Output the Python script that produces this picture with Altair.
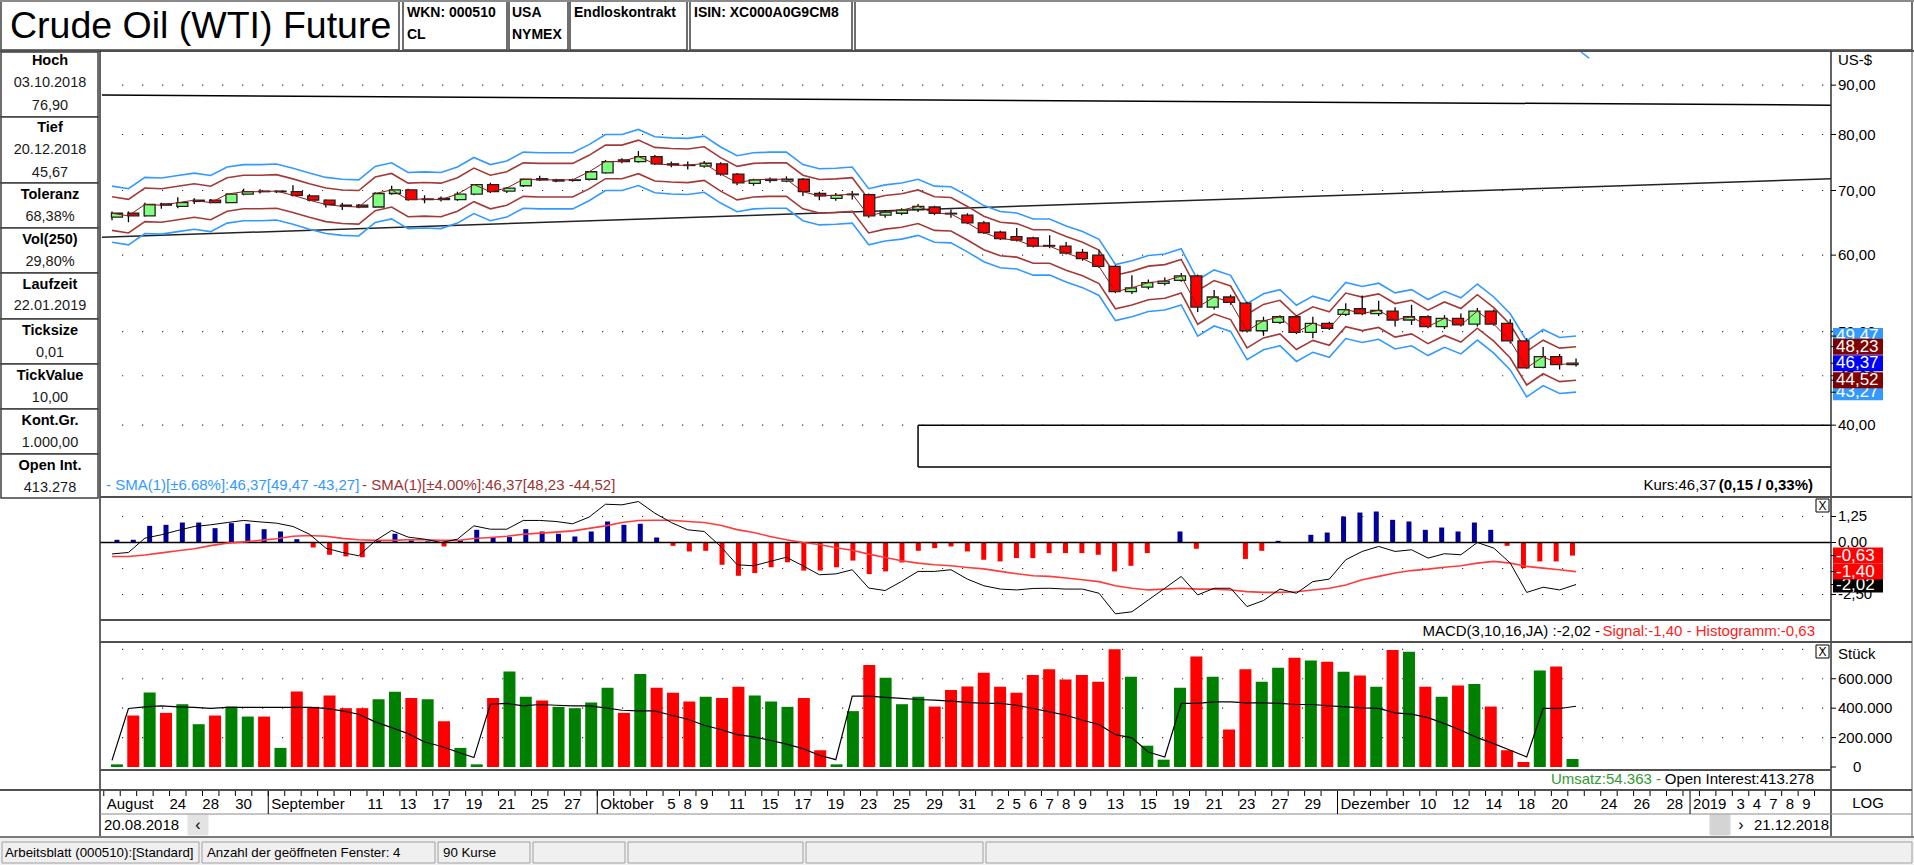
import altair as alt
import pandas as pd

# ============================================================ chart values
# one entry per trading day, 20.08.2018 ... 21.12.2018  ("90 Kurse")
OPEN = [65.7, 66.3, 65.9, 67.8, 67.4, 68.2, 68.4, 68.0, 69.4, 69.9,
        69.8, 69.8, 69.1, 68.4, 67.6, 67.6, 67.3, 69.5, 70.1, 68.5,
        68.7, 68.5, 69.4, 71.0, 69.9, 70.8, 72.0, 71.6, 71.7, 71.9,
        73.0, 75.3, 75.0, 75.9, 74.6, 74.4, 74.2, 74.6, 72.8, 71.2,
        71.7, 71.6, 71.9, 69.5, 68.7, 69.3, 69.3, 66.0, 66.3, 66.9,
        67.3, 66.3, 66.0, 64.8, 63.4, 62.7, 62.5, 61.4, 61.3, 60.4,
        60.0, 58.4, 55.0, 55.6, 56.1, 56.5, 57.1, 53.0, 54.3, 53.5,
        50.1, 51.1, 51.8, 49.9, 51.0, 52.1, 52.8, 52.2, 52.5, 51.4,
        51.8, 50.6, 51.6, 50.9, 52.5, 51.0, 48.9, 45.9, 47.1, 46.22]
HIGH = [66.6, 66.6, 68.0, 68.0, 68.9, 68.7, 68.6, 69.5, 70.3, 70.2,
        70.0, 70.9, 69.4, 68.5, 68.0, 67.8, 69.7, 70.8, 70.3, 69.2,
        69.0, 69.8, 71.1, 71.3, 70.6, 72.0, 72.5, 72.0, 72.0, 73.3,
        75.3, 75.6, 76.9, 76.2, 75.0, 75.0, 75.1, 74.9, 73.0, 72.0,
        72.2, 72.4, 72.1, 69.8, 69.6, 69.9, 69.5, 66.8, 67.1, 67.8,
        67.5, 66.9, 66.3, 65.1, 63.6, 64.0, 62.7, 62.9, 61.9, 60.9,
        60.7, 58.6, 57.2, 56.6, 56.9, 57.5, 57.3, 55.2, 54.6, 53.7,
        51.8, 52.0, 52.0, 51.8, 51.2, 53.5, 54.5, 53.8, 53.0, 53.3,
        52.0, 52.0, 52.2, 52.9, 52.7, 51.5, 49.2, 48.2, 47.4, 46.9]
LOW = [65.2, 64.9, 65.8, 67.0, 67.1, 67.8, 67.9, 67.9, 69.2, 69.5,
       69.6, 69.0, 68.2, 67.2, 66.8, 67.1, 67.2, 69.3, 68.3, 67.9,
       68.2, 68.3, 69.2, 69.6, 69.6, 70.6, 71.6, 71.4, 71.5, 71.7,
       72.9, 74.7, 74.8, 74.4, 74.0, 73.6, 73.9, 72.5, 70.9, 70.8,
       71.3, 71.4, 69.1, 68.4, 68.3, 68.5, 65.6, 65.6, 66.0, 66.5,
       66.0, 65.6, 64.6, 63.1, 62.2, 62.0, 61.1, 61.0, 60.1, 59.2,
       58.2, 54.8, 54.7, 55.3, 55.8, 56.3, 52.4, 52.7, 53.3, 49.9,
       49.5, 50.9, 49.7, 49.2, 50.2, 51.9, 52.0, 51.9, 50.6, 50.8,
       50.4, 50.3, 50.6, 50.6, 50.7, 48.6, 45.75, 45.8, 45.67, 46.0]
CLOSE = [66.3, 65.9, 67.7, 67.6, 68.0, 68.4, 68.0, 69.4, 69.8, 69.8,
         69.9, 69.2, 68.4, 67.7, 67.4, 67.3, 69.5, 70.1, 68.5, 68.6,
         68.5, 69.4, 71.0, 69.8, 70.4, 71.9, 71.8, 71.8, 71.8, 73.2,
         75.0, 75.0, 75.9, 74.6, 74.4, 74.3, 74.7, 72.8, 71.3, 71.8,
         71.9, 71.9, 69.8, 69.1, 69.2, 69.4, 65.9, 66.5, 66.8, 67.4,
         66.3, 66.2, 64.8, 63.3, 62.4, 62.2, 61.3, 61.3, 60.3, 59.5,
         58.4, 55.0, 55.5, 56.2, 56.4, 57.1, 53.0, 54.3, 53.6, 50.1,
         51.3, 51.8, 49.9, 51.0, 50.4, 52.7, 52.2, 52.6, 51.4, 51.8,
         50.6, 51.6, 50.8, 52.5, 50.9, 48.9, 45.85, 47.1, 46.22, 46.37]
VOLUME = [18000, 350000, 507000, 368000, 427000, 291000, 350000, 411000, 343000, 343000,
          130000, 514000, 409000, 486000, 400000, 400000, 461000, 511000, 470000, 461000,
          311000, 130000, 18000, 470000, 650000, 477000, 452000, 409000, 400000, 439000,
          539000, 368000, 632000, 539000, 505000, 445000, 477000, 470000, 545000, 486000,
          445000, 409000, 470000, 114000, 18000, 380000, 693000, 607000, 427000, 477000,
          411000, 523000, 548000, 641000, 545000, 505000, 625000, 664000, 595000, 625000,
          580000, 800000, 614000, 145000, 50000, 539000, 752000, 614000, 255000, 664000,
          580000, 675000, 743000, 725000, 716000, 648000, 623000, 545000, 795000, 784000,
          545000, 477000, 555000, 564000, 411000, 114000, 34000, 657000, 684000, 54363]
OPEN_INTEREST = [45000, 398000, 409000, 416000, 409000, 405000, 398000, 405000, 405000, 405000,
                 405000, 405000, 405000, 398000, 382000, 359000, 307000, 268000, 227000, 170000,
                 141000, 102000, 64000, 427000, 432000, 416000, 425000, 420000, 416000, 416000,
                 402000, 386000, 382000, 382000, 352000, 325000, 284000, 255000, 220000, 205000,
                 182000, 155000, 125000, 80000, 50000, 482000, 482000, 473000, 466000, 459000,
                 455000, 448000, 439000, 432000, 432000, 420000, 398000, 375000, 352000, 318000,
                 289000, 220000, 198000, 102000, 68000, 432000, 432000, 443000, 443000, 436000,
                 436000, 432000, 425000, 425000, 416000, 409000, 402000, 398000, 368000, 359000,
                 336000, 295000, 250000, 200000, 159000, 114000, 68000, 398000, 398000, 413278]
MACD_LINE = [-0.55, -0.48, 0.21, 0.37, 0.58, 0.77, 0.85, 0.96, 1.06, 0.99,
             0.93, 0.77, 0.40, -0.27, -0.48, -0.64, 0.08, 0.58, 0.26, 0.16,
             0.0, 0.16, 0.80, 0.64, 0.64, 1.06, 1.06, 1.01, 0.90, 1.22,
             1.84, 1.81, 1.97, 1.41, 0.96, 0.61, 0.53, -0.19, -1.07, -1.12,
             -0.91, -0.71, -1.12, -1.55, -1.51, -1.31, -2.19, -2.31, -1.87, -1.39,
             -1.39, -1.31, -1.76, -2.08, -2.24, -2.28, -2.21, -2.20, -2.24, -2.24,
             -2.44, -3.43, -3.33, -2.76, -2.20, -1.63, -2.52, -2.20, -2.20, -3.08,
             -2.79, -2.24, -2.44, -1.88, -1.76, -0.83, -0.43, -0.19, -0.43, -0.35,
             -0.75, -0.54, -0.59, 0.0, -0.27, -0.99, -2.40, -2.15, -2.28, -2.02]
MACD_SIGNAL = [-0.67, -0.67, -0.6, -0.5, -0.4, -0.3, -0.15, -0.03, 0.03, 0.1,
               0.18, 0.3, 0.34, 0.3, 0.2, 0.13, 0.1, 0.1, 0.13, 0.13,
               0.1, 0.1, 0.19, 0.24, 0.3, 0.4, 0.45, 0.5, 0.56, 0.68,
               0.8, 0.96, 1.06, 1.07, 1.07, 1.01, 0.96, 0.83, 0.62, 0.48,
               0.29, 0.13, 0.0, -0.1, -0.25, -0.37, -0.56, -0.72, -0.88, -0.99,
               -1.07, -1.12, -1.2, -1.27, -1.39, -1.5, -1.6, -1.63, -1.71, -1.79,
               -1.88, -2.08, -2.2, -2.28, -2.24, -2.2, -2.24, -2.24, -2.28, -2.36,
               -2.40, -2.40, -2.37, -2.28, -2.2, -2.04, -1.79, -1.63, -1.47, -1.35,
               -1.28, -1.19, -1.12, -0.99, -0.91, -0.99, -1.15, -1.23, -1.31, -1.40]
MACD_HIST = [0.13, 0.13, 0.80, 0.85, 0.96, 0.96, 0.69, 0.93, 0.90, 0.64,
             0.53, 0.16, -0.24, -0.59, -0.67, -0.71, 0.10, 0.42, 0.10, 0.05,
             -0.19, 0.10, 0.61, 0.26, 0.26, 0.64, 0.53, 0.42, 0.29, 0.53,
             1.01, 0.85, 0.90, 0.24, -0.16, -0.43, -0.40, -1.07, -1.60, -1.47,
             -1.19, -0.95, -1.35, -1.35, -1.19, -0.87, -1.52, -1.39, -0.96, -0.40,
             -0.27, -0.19, -0.43, -0.83, -0.91, -0.75, -0.75, -0.51, -0.51, -0.51,
             -0.59, -1.39, -1.12, -0.51, 0.0, 0.53, -0.30, 0.0, 0.0, -0.79,
             -0.40, 0.08, 0.0, 0.37, 0.48, 1.25, 1.44, 1.49, 1.09, 1.01,
             0.61, 0.72, 0.53, 0.96, 0.61, -0.16, -1.23, -0.91, -0.91, -0.63]

BAND_WIDE_PCT = 6.68
BAND_NARROW_PCT = 4.00

# right-axis tick values and labels
PRICE_TICKS = [90, 80, 70, 60, 50, 45, 40]
PRICE_TICK_TEXT = ["90,00", "80,00", "70,00", "60,00", "50,00", "45,00", "40,00"]
PRICE_LAST = [49.47, 43.27, 48.23, 44.52, 46.37]
PRICE_LAST_TEXT = ["49,47", "43,27", "48,23", "44,52", "46,37"]
PRICE_LAST_FILL = ["#3399FF", "#3399FF", "#800000", "#800000", "#0000FF"]
MACD_TICKS = [1.25, 0.0, -2.5]
MACD_TICK_TEXT = ["1,25", "0,00", "-2,50"]
MACD_GRID = [1.25, -1.25, -2.5]
MACD_LAST = [-2.02, -0.63, -1.40]
MACD_LAST_TEXT = ["-2,02", "-0,63", "-1,40"]
MACD_LAST_FILL = ["#000000", "#FF0000", "#FF0000"]
VOL_TICKS = [600000, 400000, 200000, 0]
VOL_TICK_TEXT = ["600.000", "400.000", "200.000", "0"]
VOL_GRID = [200000, 400000, 600000, 800000]

# time axis (trading-day slots, 0 = 20.08.2018)
DAY_TEXT = ["24", "28", "30", "11", "13", "17", "19", "21", "25", "27",
            "5", "8", "9", "11", "15", "17", "19", "23", "25", "29", "31",
            "2", "5", "6", "7", "8", "9", "13", "15", "19", "21", "23", "27", "29",
            "10", "12", "14", "18", "20", "24", "26", "28", "3", "4", "7", "8", "9"]
DAY_SLOT = [4, 6, 8, 16, 18, 20, 22, 24, 26, 28,
            34, 35, 36, 38, 40, 42, 44, 46, 48, 50, 52,
            54, 55, 56, 57, 58, 59, 61, 63, 65, 67, 69, 71, 73,
            80, 82, 84, 86, 88, 91, 93, 95, 99, 100, 101, 102, 103]
MONTH_TEXT = ["August", "September", "Oktober", "Dezember", "2019"]
MONTH_SLOT = [-0.5, 9.5, 29.5, 74.5, 95.93]
N_SLOTS = 105

# drawn objects in the price window: (slot1, price1, slot2, price2)
DRAWN_LINES = [(-0.61, 87.9, 104.5, 85.8),
               (-0.61, 62.6, 104.5, 72.0),
               (49.0, 40.0, 104.5, 40.0),
               (49.0, 40.0, 49.0, 36.2),
               (49.0, 36.2, 104.5, 36.2)]
DRAWN_COLOR = ["#000000", "#222222", "#000000", "#000000", "#000000"]
DRAWN_BLUE = [(89.3, 97.4, 89.8, 96.0)]

# ============================================================ layout
W, H = 1914, 865
SANS = "Liberation Sans, Arial, Helvetica, sans-serif"
X_LEFT, X_RIGHT = 100, 1831
FIRST_PX, SLOT_PX = 112, 16.45
XS = alt.Scale(domain=[(X_LEFT - FIRST_PX) / SLOT_PX, (X_RIGHT - FIRST_PX) / SLOT_PX],
               range=[X_LEFT, X_RIGHT], zero=False, nice=False)
PS = alt.Scale(type="log", domain=[33.7, 97.4], range=[497, 52], nice=False)
MS = alt.Scale(domain=[-3.726, 2.1875], range=[620, 497], zero=False, nice=False)
VS = alt.Scale(domain=[0, 850000], range=[767, 642], zero=False, nice=False)

AXL = 1838  # left edge of right-axis labels

# ============================================================ helpers
def xq(field="slot"):
    return alt.X(f"{field}:Q", scale=XS, axis=None)


def pix_rules(rows):
    df = pd.DataFrame(rows, columns=["x", "y", "x2", "y2", "c", "w"])
    return alt.Chart(df).mark_rule().encode(
        x=alt.X("x:Q", scale=None, axis=None), y=alt.Y("y:Q", scale=None, axis=None),
        x2="x2:Q", y2="y2:Q",
        color=alt.Color("c:N", scale=None, legend=None),
        strokeWidth=alt.StrokeWidth("w:Q", scale=None, legend=None))


def pix_rects(rows, sw=1):
    df = pd.DataFrame(rows, columns=["x", "y", "x2", "y2", "f", "s"])
    return alt.Chart(df).mark_rect(strokeWidth=sw).encode(
        x=alt.X("x:Q", scale=None, axis=None), y=alt.Y("y:Q", scale=None, axis=None),
        x2="x2:Q", y2="y2:Q",
        fill=alt.Fill("f:N", scale=None, legend=None),
        stroke=alt.Stroke("s:N", scale=None, legend=None))


def pix_text(rows, align="left", weight="normal", font=SANS):
    df = pd.DataFrame(rows, columns=["t", "x", "y", "s", "c"])
    return alt.Chart(df).mark_text(align=align, baseline="middle", font=font, fontWeight=weight).encode(
        x=alt.X("x:Q", scale=None, axis=None), y=alt.Y("y:Q", scale=None, axis=None),
        text="t:N",
        size=alt.Size("s:Q", scale=None, legend=None),
        color=alt.Color("c:N", scale=None, legend=None))


# ============================================================ data frames
n = len(CLOSE)
df = pd.DataFrame({
    "slot": list(range(n)), "o": OPEN, "h": HIGH, "l": LOW, "c": CLOSE,
    "v": VOLUME, "oi": OPEN_INTEREST,
    "macd": MACD_LINE, "sig": MACD_SIGNAL, "hist": MACD_HIST,
})
df["zero"] = 0.0
df["up"] = df["c"] >= df["o"]
df["body"] = df["up"].map({True: "#80FF80", False: "#FF0000"})
df["vcol"] = df["up"].map({True: "#008000", False: "#FF0000"})
df["hcol"] = (df["hist"] >= 0).map({True: "#000099", False: "#FF0000"})
df["bw_hi"] = df["c"] * (1 + BAND_WIDE_PCT / 100)
df["bw_lo"] = df["c"] * (1 - BAND_WIDE_PCT / 100)
df["bn_hi"] = df["c"] * (1 + BAND_NARROW_PCT / 100)
df["bn_lo"] = df["c"] * (1 - BAND_NARROW_PCT / 100)

base = alt.Chart(df)
layers = []

# ---------------------------------------------------------------- backgrounds / boxes
layers.append(pix_rects([
    (0, 838, W, H, "#F0F0F0", "#F0F0F0"),
]))
layers.append(pix_rects([
    (1, 1, 399, 50, "#FFFFFF", "#404040"),
    (403, 1, 507, 50, "#FFFFFF", "#404040"),
    (509, 1, 568, 50, "#FFFFFF", "#404040"),
    (570, 1, 687, 50, "#FFFFFF", "#404040"),
    (690, 1, 852, 50, "#FFFFFF", "#404040"),
    (855, 1, 1912, 50, "#FFFFFF", "#404040"),
    (1, 52, 98, 117, "#FFFFFF", "#404040"),
    (1, 117, 98, 183, "#FFFFFF", "#404040"),
    (1, 183, 98, 228, "#FFFFFF", "#404040"),
    (1, 228, 98, 273, "#FFFFFF", "#404040"),
    (1, 273, 98, 319, "#FFFFFF", "#404040"),
    (1, 319, 98, 364, "#FFFFFF", "#404040"),
    (1, 364, 98, 409, "#FFFFFF", "#404040"),
    (1, 409, 98, 454, "#FFFFFF", "#404040"),
    (1, 454, 98, 498, "#FFFFFF", "#404040"),
], sw=1.5))
layers.append(pix_rects([
    (2, 842, 199, 863, "#F0F0F0", "#A0A0A0"),
    (202, 842, 435, 863, "#F0F0F0", "#A0A0A0"),
    (438, 842, 530, 863, "#F0F0F0", "#A0A0A0"),
    (533, 842, 625, 863, "#F0F0F0", "#A0A0A0"),
    (628, 842, 803, 863, "#F0F0F0", "#A0A0A0"),
    (806, 842, 983, 863, "#F0F0F0", "#A0A0A0"),
    (986, 842, 1912, 863, "#F0F0F0", "#A0A0A0"),
    (188, 815, 208, 835, "#E3E3E3", "#E3E3E3"),
    (1710, 815, 1730, 835, "#D4D4D4", "#D4D4D4"),
    (1816, 499, 1829, 512, "#FFFFFF", "#000000"),
    (1816, 645, 1829, 658, "#FFFFFF", "#000000"),
]))

# ---------------------------------------------------------------- grids (dotted)
pgrid = pd.DataFrame({"p": PRICE_TICKS})
layers.append(alt.Chart(pgrid).mark_rule(color="#333333", strokeWidth=1.2, strokeDash=[1.2, 18.8]).encode(
    x=alt.value(122), x2=alt.value(1826), y=alt.Y("p:Q", scale=PS, axis=None)))
mgrid = pd.DataFrame({"m": MACD_GRID})
layers.append(alt.Chart(mgrid).mark_rule(color="#333333", strokeWidth=1.2, strokeDash=[1.2, 18.8]).encode(
    x=alt.value(122), x2=alt.value(1826), y=alt.Y("m:Q", scale=MS, axis=None)))
vgrid = pd.DataFrame({"v": VOL_GRID})
layers.append(alt.Chart(vgrid).mark_rule(color="#333333", strokeWidth=1.2, strokeDash=[1.2, 18.8]).encode(
    x=alt.value(122), x2=alt.value(1826), y=alt.Y("v:Q", scale=VS, axis=None)))

# ---------------------------------------------------------------- drawn objects (price window)
dl = pd.DataFrame(DRAWN_LINES, columns=["s1", "p1", "s2", "p2"])
dl["c"] = DRAWN_COLOR
layers.append(alt.Chart(dl).mark_rule(strokeWidth=1.5).encode(
    x=xq("s1"), x2="s2:Q", y=alt.Y("p1:Q", scale=PS, axis=None), y2="p2:Q",
    color=alt.Color("c:N", scale=None, legend=None)))
db = pd.DataFrame(DRAWN_BLUE, columns=["s1", "p1", "s2", "p2"])
layers.append(alt.Chart(db).mark_rule(strokeWidth=1.5, color="#3399FF").encode(
    x=xq("s1"), x2="s2:Q", y=alt.Y("p1:Q", scale=PS, axis=None), y2="p2:Q"))

# ---------------------------------------------------------------- bands
for fld, col in [("bw_hi", "#3399FF"), ("bw_lo", "#3399FF"), ("bn_hi", "#A33A3A"), ("bn_lo", "#A33A3A")]:
    layers.append(base.mark_line(color=col, strokeWidth=1.6).encode(
        x=xq(), y=alt.Y(f"{fld}:Q", scale=PS, axis=None)))

# ---------------------------------------------------------------- candles
layers.append(base.mark_rule(color="#000000", strokeWidth=1.3).encode(
    x=xq(), y=alt.Y("l:Q", scale=PS, axis=None), y2="h:Q"))
layers.append(base.mark_bar(size=11, stroke="#202020", strokeWidth=1.3).encode(
    x=xq(), y=alt.Y("o:Q", scale=PS, axis=None), y2="c:Q",
    fill=alt.Fill("body:N", scale=None, legend=None)))
layers.append(base.mark_line(color="#8B1A1A", strokeWidth=1).encode(
    x=xq(), y=alt.Y("c:Q", scale=PS, axis=None)))

# ---------------------------------------------------------------- MACD
layers.append(base.mark_bar(size=5).encode(
    x=xq(), y=alt.Y("hist:Q", scale=MS, axis=None), y2="zero:Q",
    color=alt.Color("hcol:N", scale=None, legend=None)))
layers.append(alt.Chart(pd.DataFrame({"m": [0.0]})).mark_rule(color="#000000", strokeWidth=1.5).encode(
    x=alt.value(X_LEFT), x2=alt.value(X_RIGHT), y=alt.Y("m:Q", scale=MS, axis=None)))
layers.append(base.mark_line(color="#FF3B3B", strokeWidth=1.6).encode(
    x=xq(), y=alt.Y("sig:Q", scale=MS, axis=None)))
layers.append(base.mark_line(color="#000000", strokeWidth=1).encode(
    x=xq(), y=alt.Y("macd:Q", scale=MS, axis=None)))

# ---------------------------------------------------------------- volume + open interest
layers.append(base.mark_bar(size=12).encode(
    x=xq(), y=alt.Y("v:Q", scale=VS, axis=None), y2="zero:Q",
    color=alt.Color("vcol:N", scale=None, legend=None)))
layers.append(base.mark_line(color="#000000", strokeWidth=1.2).encode(
    x=xq(), y=alt.Y("oi:Q", scale=VS, axis=None)))

# ---------------------------------------------------------------- frame lines
layers.append(pix_rules([
    (0, 1, W, 1, "#8A8A8A", 2),
    (0, 51, W, 51, "#505050", 2),
    (X_LEFT, 51, X_LEFT, 836, "#303030", 1.5),
    (X_RIGHT, 51, X_RIGHT, 836, "#303030", 1.5),
    (1912, 51, 1912, 836, "#505050", 1),
    (X_LEFT, 497, 1912, 497, "#505050", 2),
    (X_LEFT, 620, X_RIGHT, 620, "#505050", 2),
    (X_LEFT, 642, 1912, 642, "#505050", 2),
    (X_LEFT, 770, X_RIGHT, 770, "#505050", 2),
    (0, 790, 1912, 790, "#505050", 2),
    (X_LEFT, 814, 1912, 814, "#8A8A8A", 1),
    (0, 837, W, 837, "#505050", 1.5),
]))

# ---------------------------------------------------------------- time axis
ticks = pd.DataFrame({"s": [k - 0.5 for k in range(N_SLOTS)]})
layers.append(alt.Chart(ticks).mark_rule(color="#000000", strokeWidth=1).encode(
    x=xq("s"), y=alt.value(791), y2=alt.value(796)))
mon = pd.DataFrame({"s": MONTH_SLOT, "t": MONTH_TEXT})
layers.append(alt.Chart(mon.iloc[1:]).mark_rule(color="#000000", strokeWidth=1).encode(
    x=xq("s"), y=alt.value(791), y2=alt.value(814)))
layers.append(alt.Chart(mon).mark_text(align="left", baseline="middle", font=SANS, fontSize=15, dx=3,
                                       color="#000000").encode(
    x=xq("s"), y=alt.value(804), text="t:N"))
days = pd.DataFrame({"s": DAY_SLOT, "t": DAY_TEXT})
layers.append(alt.Chart(days).mark_text(align="center", baseline="middle", font=SANS, fontSize=15,
                                        color="#000000").encode(
    x=xq("s"), y=alt.value(804), text="t:N"))

# ---------------------------------------------------------------- right axes
def right_axis(values, texts, scale, field):
    d = pd.DataFrame({field: values, "t": texts})
    tick = alt.Chart(d).mark_rule(color="#000000", strokeWidth=1).encode(
        x=alt.value(X_RIGHT), x2=alt.value(X_RIGHT + 5), y=alt.Y(f"{field}:Q", scale=scale, axis=None))
    lab = alt.Chart(d).mark_text(align="left", baseline="middle", font=SANS, fontSize=15,
                                 color="#000000").encode(
        x=alt.value(AXL), y=alt.Y(f"{field}:Q", scale=scale, axis=None), text="t:N")
    return [tick, lab]


def value_boxes(values, texts, fills, scale, field):
    out = []
    for v, t, f in zip(values, texts, fills):
        d = pd.DataFrame({field: [v], "t": [t]})
        out.append(alt.Chart(d).mark_rule(strokeWidth=16, color=f).encode(
            x=alt.value(X_RIGHT + 2), x2=alt.value(1883), y=alt.Y(f"{field}:Q", scale=scale, axis=None)))
        out.append(alt.Chart(d).mark_rule(color="#000000", strokeWidth=1).encode(
            x=alt.value(X_RIGHT), x2=alt.value(X_RIGHT + 5), y=alt.Y(f"{field}:Q", scale=scale, axis=None)))
        out.append(alt.Chart(d).mark_text(align="left", baseline="middle", font=SANS, fontSize=17,
                                          color="#FFFFFF").encode(
            x=alt.value(1836), y=alt.Y(f"{field}:Q", scale=scale, axis=None), text="t:N"))
    return out


layers += right_axis(PRICE_TICKS, PRICE_TICK_TEXT, PS, "p")
layers += value_boxes(PRICE_LAST, PRICE_LAST_TEXT, PRICE_LAST_FILL, PS, "p")
layers += right_axis(MACD_TICKS, MACD_TICK_TEXT, MS, "m")
layers += value_boxes(MACD_LAST, MACD_LAST_TEXT, MACD_LAST_FILL, MS, "m")
layers += right_axis(VOL_TICKS[:-1], VOL_TICK_TEXT[:-1], VS, "v")
vz = pd.DataFrame({"v": VOL_TICKS[-1:], "t": VOL_TICK_TEXT[-1:]})
layers.append(alt.Chart(vz).mark_text(align="left", baseline="middle", font=SANS, fontSize=15,
                                      color="#000000").encode(
    x=alt.value(1853), y=alt.Y("v:Q", scale=VS, axis=None), text="t:N"))
layers.append(alt.Chart(vz).mark_rule(color="#000000").encode(
    x=alt.value(X_RIGHT), x2=alt.value(X_RIGHT + 5), y=alt.Y("v:Q", scale=VS, axis=None)))

# ---------------------------------------------------------------- texts
layers.append(pix_text([("Crude Oil (WTI) Future", 10, 27, 37.5, "#000000")]))
layers.append(pix_text([
    ("WKN: 000510", 407, 13, 14, "#000000"), ("CL", 407, 35, 14, "#000000"),
    ("USA", 512, 13, 14, "#000000"), ("NYMEX", 512, 35, 14, "#000000"),
    ("Endloskontrakt", 574, 13, 14, "#000000"),
    ("ISIN: XC000A0G9CM8", 694, 13, 14, "#000000"),
], weight="bold"))
layers.append(pix_text([
    ("Hoch", 50, 61, 14.5, "#000000"), ("Tief", 50, 128, 14.5, "#000000"),
    ("Toleranz", 50, 195, 14.5, "#000000"), ("Vol(250)", 50, 240, 14.5, "#000000"),
    ("Laufzeit", 50, 285, 14.5, "#000000"), ("Ticksize", 50, 331, 14.5, "#000000"),
    ("TickValue", 50, 376, 14.5, "#000000"), ("Kont.Gr.", 50, 421, 14.5, "#000000"),
    ("Open Int.", 50, 466, 14.5, "#000000"),
], align="center", weight="bold"))
layers.append(pix_text([
    ("03.10.2018", 50, 83, 14.5, "#1A1A1A"), ("76,90", 50, 106, 14.5, "#1A1A1A"),
    ("20.12.2018", 50, 150, 14.5, "#1A1A1A"), ("45,67", 50, 173, 14.5, "#1A1A1A"),
    ("68,38%", 50, 217, 14.5, "#1A1A1A"), ("29,80%", 50, 262, 14.5, "#1A1A1A"),
    ("22.01.2019", 50, 306, 14.5, "#1A1A1A"), ("0,01", 50, 353, 14.5, "#1A1A1A"),
    ("10,00", 50, 398, 14.5, "#1A1A1A"), ("1.000,00", 50, 443, 14.5, "#1A1A1A"),
    ("413.278", 50, 488, 14.5, "#1A1A1A"),
], align="center"))
layers.append(pix_text([
    ("- SMA(1)[±6.68%]:46,37[49,47 -43,27]", 106, 485, 15, "#3399FF"),
    ("- SMA(1)[±4.00%]:46,37[48,23 -44,52]", 362, 485, 15, "#993333"),
    ("Arbeitsblatt (000510):[Standard]", 5, 853, 13.3, "#000000"),
    ("Anzahl der geöffneten Fenster: 4", 207, 853, 13.3, "#000000"),
    ("90 Kurse", 443, 853, 13.3, "#000000"),
    ("20.08.2018", 104, 825, 15, "#000000"),
    ("US-$", AXL, 60, 15, "#000000"),
    ("Stück", AXL, 654, 15, "#000000"),
]))
layers.append(pix_text([
    ("Kurs:46,37", 1716, 485, 15, "#000000"),
    ("MACD(3,10,16,JA) :-2,02 -", 1600, 631, 15, "#000000"),
    ("Signal:-1,40 - Histogramm:-0,63", 1815, 631, 15, "#FF2020"),
    ("Open Interest:413.278", 1814, 779, 15, "#000000"),
    ("Umsatz:54.363 -", 1661, 779, 15, "#339933"),
    ("21.12.2018", 1829, 825, 15, "#000000"),
], align="right"))
layers.append(pix_text([("(0,15 / 0,33%)", 1813, 485, 15, "#000000")], align="right", weight="bold"))
layers.append(pix_text([
    ("‹", 198, 825, 16, "#000000"), ("›", 1741, 825, 16, "#000000"),
    ("LOG", 1868, 803, 15, "#000000"),
    ("X", 1822.5, 506, 12, "#000000"), ("X", 1822.5, 652, 12, "#000000"),
], align="center"))

chart = alt.layer(*layers).resolve_scale(
    x="independent", y="independent"
).properties(
    width=W, height=H, padding=0, background="#FFFFFF",
    autosize=alt.AutoSizeParams(type="none"),
).configure_view(stroke=None)

chart.save("out.html", embed_options={"renderer": "svg", "actions": False})
